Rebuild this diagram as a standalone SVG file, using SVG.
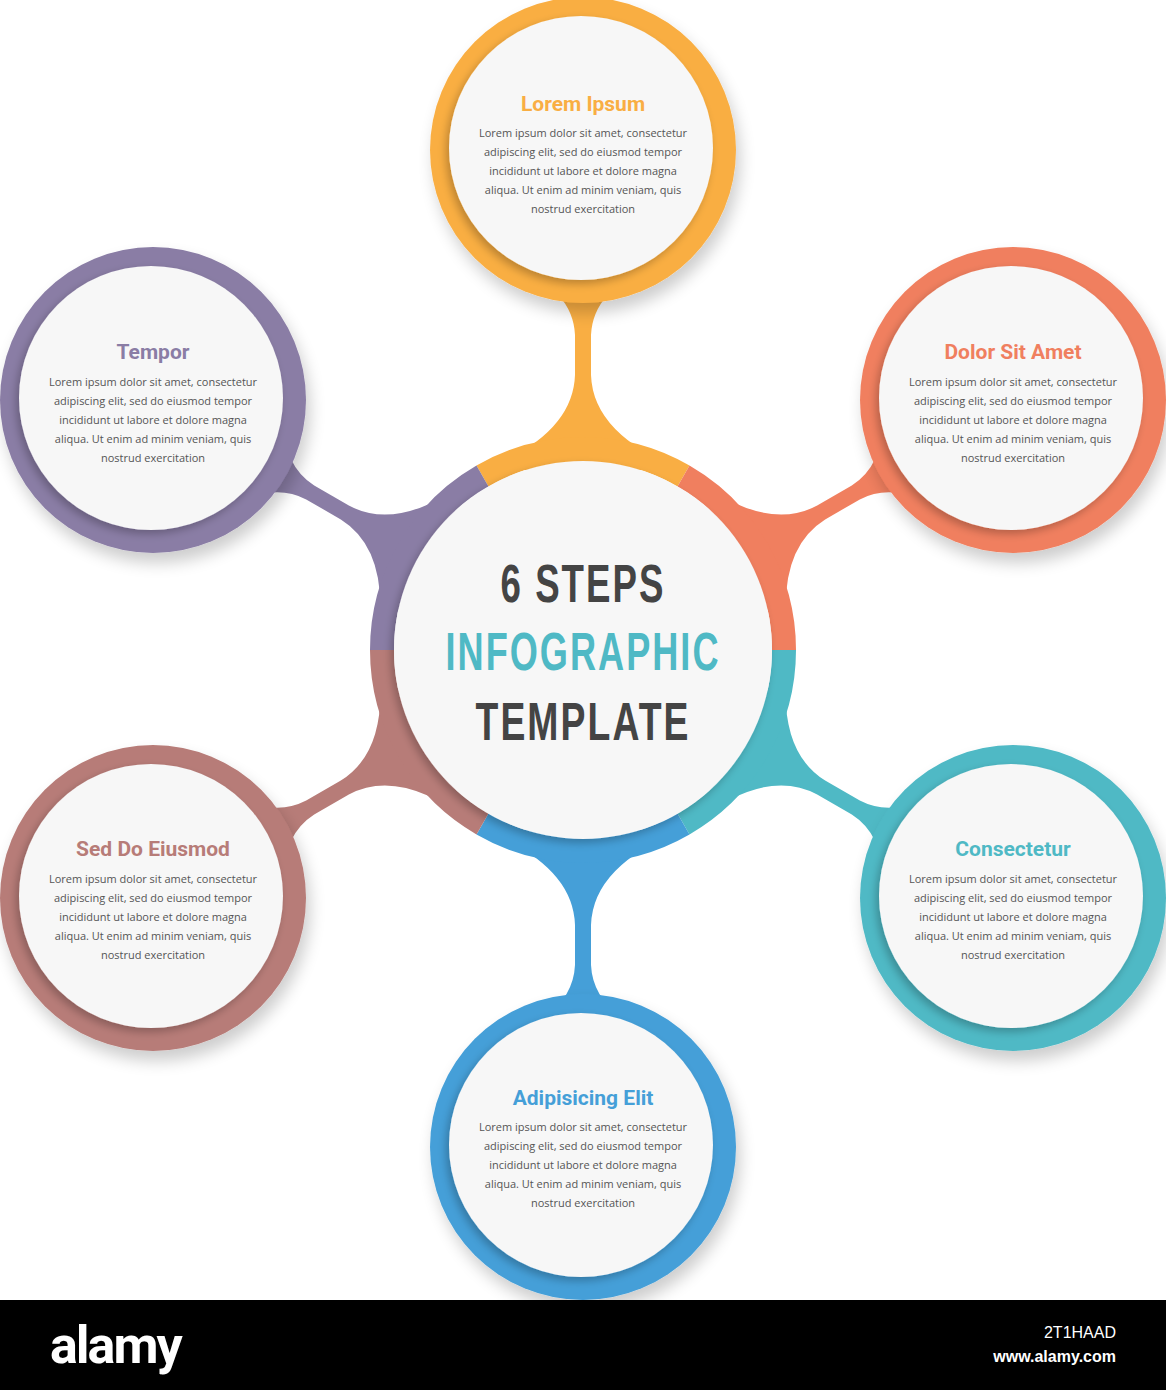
<svg xmlns="http://www.w3.org/2000/svg" width="1166" height="1390" viewBox="0 0 1166 1390">
<defs>
<filter id="sh" x="-30%" y="-30%" width="160%" height="160%"><feGaussianBlur in="SourceAlpha" stdDeviation="8"/><feOffset dx="4" dy="10"/><feComponentTransfer><feFuncA type="linear" slope="0.2"/></feComponentTransfer><feMerge><feMergeNode/><feMergeNode in="SourceGraphic"/></feMerge></filter>
<filter id="is" x="-20%" y="-20%" width="140%" height="140%"><feGaussianBlur in="SourceAlpha" stdDeviation="4"/><feOffset dx="-3" dy="4"/><feComponentTransfer><feFuncA type="linear" slope="0.25"/></feComponentTransfer><feMerge><feMergeNode/><feMergeNode in="SourceGraphic"/></feMerge></filter>
<path id="neck" d="M -100,-180 Q -10,-215 -8,-275 L -8,-315 Q -10,-360 -70,-385 L 70,-385 Q 10,-360 8,-315 L 8,-275 Q 10,-215 100,-180 Z"/>
</defs>
<style>
.t{font-family:Roboto,"Liberation Sans",sans-serif;font-weight:bold;font-size:21px;text-anchor:middle}
.b{font-family:"Open Sans","Liberation Sans",sans-serif;font-size:11px;fill:#555}
.in{fill:#f7f7f7}
.c{font-family:"Liberation Sans",sans-serif;font-weight:bold;font-size:54px;text-anchor:middle;letter-spacing:3px}
</style>
<rect width="1166" height="1390" fill="#fff"/>
<g id="connectors" transform="translate(583,650)">
<use href="#neck" fill="#F9AE43"/>
<use href="#neck" fill="#F07F5F" transform="rotate(60)"/>
<use href="#neck" fill="#4FB9C5" transform="rotate(120)"/>
<use href="#neck" fill="#459FD8" transform="rotate(180)"/>
<use href="#neck" fill="#B77C78" transform="rotate(240)"/>
<use href="#neck" fill="#8A7DA5" transform="rotate(300)"/>
</g>
<g id="center" transform="translate(583,650)">
<g fill="none" stroke-width="24">
<path d="M -100.5,-174 A 201,201 0 0 1 100.5,-174" stroke="#F9AE43"/>
<path d="M 100.5,-174 A 201,201 0 0 1 201,0" stroke="#F07F5F"/>
<path d="M 201,0 A 201,201 0 0 1 100.5,174" stroke="#4FB9C5"/>
<path d="M 100.5,174 A 201,201 0 0 1 -100.5,174" stroke="#459FD8"/>
<path d="M -100.5,174 A 201,201 0 0 1 -201,0" stroke="#B77C78"/>
<path d="M -201,0 A 201,201 0 0 1 -100.5,-174" stroke="#8A7DA5"/>
</g>
<circle r="189" class="in" filter="url(#is)"/>
<text class="c" y="-48" fill="#444" textLength="165" lengthAdjust="spacingAndGlyphs">6 STEPS</text>
<text class="c" y="20" fill="#4FB9C5" textLength="275" lengthAdjust="spacingAndGlyphs">INFOGRAPHIC</text>
<text class="c" y="90" fill="#444" textLength="215" lengthAdjust="spacingAndGlyphs">TEMPLATE</text>
</g>
<g id="n1" transform="translate(583,150)"><circle r="153" fill="#F9AE43" filter="url(#sh)"/><circle r="132" cx="-2" cy="-2" class="in" filter="url(#is)"/><text class="t" y="-39" fill="#F9AE43">Lorem Ipsum</text>
<text class="b" text-anchor="middle"><tspan x="0" y="-13">Lorem ipsum dolor sit amet, consectetur</tspan><tspan x="0" y="6">adipiscing elit, sed do eiusmod tempor</tspan><tspan x="0" y="25">incididunt ut labore et dolore magna</tspan><tspan x="0" y="44">aliqua. Ut enim ad minim veniam, quis</tspan><tspan x="0" y="63">nostrud exercitation</tspan></text></g>
<g id="n2" transform="translate(1013,400)"><circle r="153" fill="#F07F5F" filter="url(#sh)"/><circle r="132" cx="-2" cy="-2" class="in" filter="url(#is)"/><text class="t" y="-41" fill="#F07F5F">Dolor Sit Amet</text>
<text class="b" text-anchor="middle"><tspan x="0" y="-14">Lorem ipsum dolor sit amet, consectetur</tspan><tspan x="0" y="5">adipiscing elit, sed do eiusmod tempor</tspan><tspan x="0" y="24">incididunt ut labore et dolore magna</tspan><tspan x="0" y="43">aliqua. Ut enim ad minim veniam, quis</tspan><tspan x="0" y="62">nostrud exercitation</tspan></text></g>
<g id="n3" transform="translate(1013,898)"><circle r="153" fill="#4FB9C5" filter="url(#sh)"/><circle r="132" cx="-2" cy="-2" class="in" filter="url(#is)"/><text class="t" y="-42" fill="#4FB9C5">Consectetur</text>
<text class="b" text-anchor="middle"><tspan x="0" y="-15">Lorem ipsum dolor sit amet, consectetur</tspan><tspan x="0" y="4">adipiscing elit, sed do eiusmod tempor</tspan><tspan x="0" y="23">incididunt ut labore et dolore magna</tspan><tspan x="0" y="42">aliqua. Ut enim ad minim veniam, quis</tspan><tspan x="0" y="61">nostrud exercitation</tspan></text></g>
<g id="n4" transform="translate(583,1147)"><circle r="153" fill="#459FD8" filter="url(#sh)"/><circle r="132" cx="-2" cy="-2" class="in" filter="url(#is)"/><text class="t" y="-42" fill="#459FD8">Adipisicing Elit</text>
<text class="b" text-anchor="middle"><tspan x="0" y="-16">Lorem ipsum dolor sit amet, consectetur</tspan><tspan x="0" y="3">adipiscing elit, sed do eiusmod tempor</tspan><tspan x="0" y="22">incididunt ut labore et dolore magna</tspan><tspan x="0" y="41">aliqua. Ut enim ad minim veniam, quis</tspan><tspan x="0" y="60">nostrud exercitation</tspan></text></g>
<g id="n5" transform="translate(153,898)"><circle r="153" fill="#B77C78" filter="url(#sh)"/><circle r="132" cx="-2" cy="-2" class="in" filter="url(#is)"/><text class="t" y="-42" fill="#B77C78">Sed Do Eiusmod</text>
<text class="b" text-anchor="middle"><tspan x="0" y="-15">Lorem ipsum dolor sit amet, consectetur</tspan><tspan x="0" y="4">adipiscing elit, sed do eiusmod tempor</tspan><tspan x="0" y="23">incididunt ut labore et dolore magna</tspan><tspan x="0" y="42">aliqua. Ut enim ad minim veniam, quis</tspan><tspan x="0" y="61">nostrud exercitation</tspan></text></g>
<g id="n6" transform="translate(153,400)"><circle r="153" fill="#8A7DA5" filter="url(#sh)"/><circle r="132" cx="-2" cy="-2" class="in" filter="url(#is)"/><text class="t" y="-41" fill="#8A7DA5">Tempor</text>
<text class="b" text-anchor="middle"><tspan x="0" y="-14">Lorem ipsum dolor sit amet, consectetur</tspan><tspan x="0" y="5">adipiscing elit, sed do eiusmod tempor</tspan><tspan x="0" y="24">incididunt ut labore et dolore magna</tspan><tspan x="0" y="43">aliqua. Ut enim ad minim veniam, quis</tspan><tspan x="0" y="62">nostrud exercitation</tspan></text></g>
<g id="footer">
<rect y="1300" width="1166" height="90" fill="#000"/>
<text x="50" y="1363" font-family="Roboto,'Liberation Sans',sans-serif" font-weight="bold" font-size="52" fill="#fff" letter-spacing="-2">alamy</text>
<text x="1116" y="1338" text-anchor="end" font-family="'Liberation Sans',sans-serif" font-size="16" fill="#fff">2T1HAAD</text>
<text x="1116" y="1362" text-anchor="end" font-family="'Liberation Sans',sans-serif" font-weight="bold" font-size="16" fill="#fff">www.alamy.com</text>
</g>
</svg>
